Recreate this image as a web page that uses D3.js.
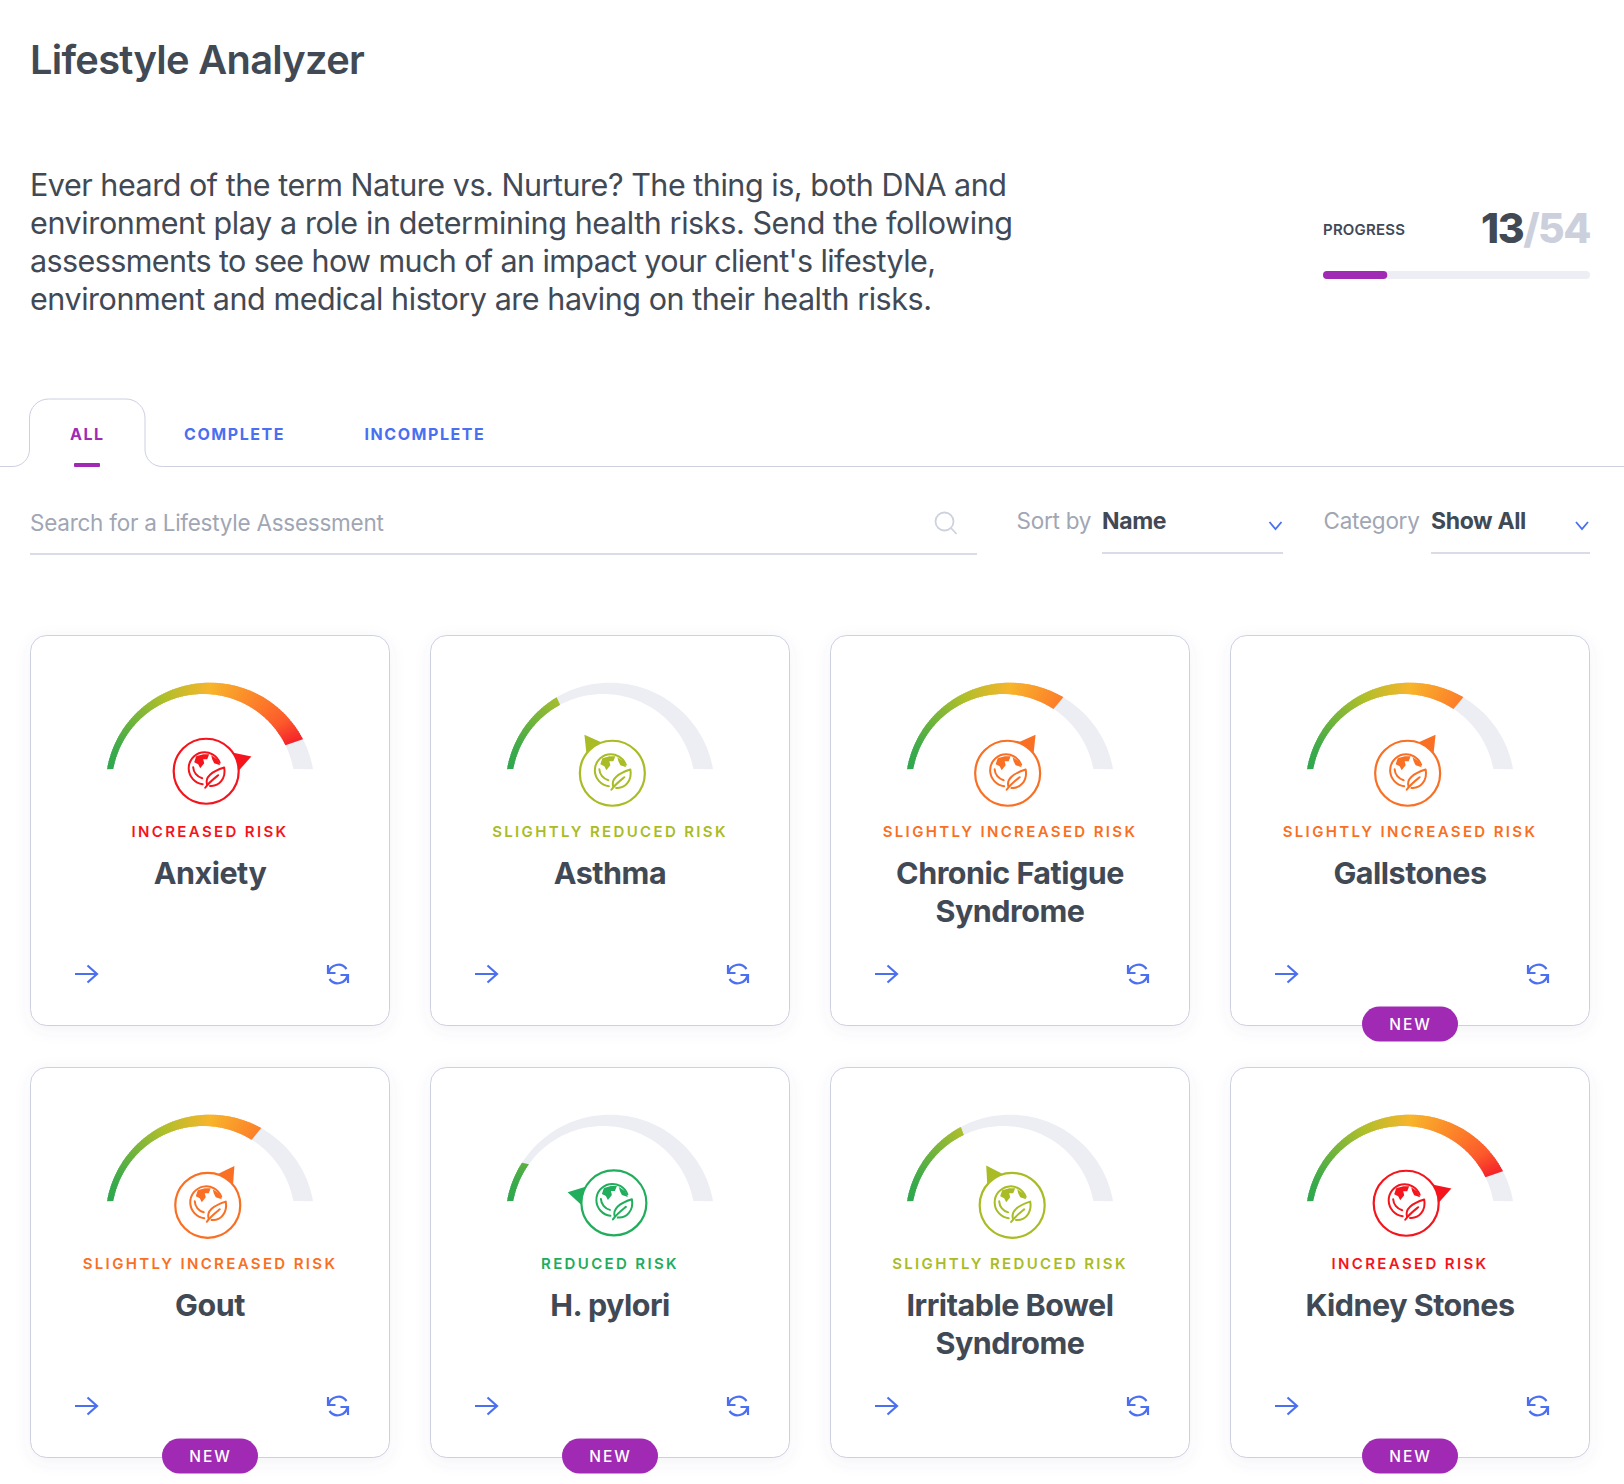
<!DOCTYPE html>
<html>
<head>
<meta charset="utf-8">
<title>Lifestyle Analyzer</title>
<script src="https://cdn.jsdelivr.net/npm/d3@7"></script>
<style>
	html, body { margin: 0; padding: 0; background: #fff; }
	svg { display: block; }
	text { font-family: Inter, "Open Sans", sans-serif; fill: #414955; }
</style>
</head>
<body>
<svg id="page" width="1624" height="1484"></svg>
<script>
// values
var introLines = [
	"Ever heard of the term Nature vs. Nurture? The thing is, both DNA and",
	"environment play a role in determining health risks. Send the following",
	"assessments to see how much of an impact your client's lifestyle,",
	"environment and medical history are having on their health risks."
];
var introWidths = [977, 983, 906, 902];
var progressDone = 13,
	progressTotal = 54;
var tabLabels = ["ALL", "COMPLETE", "INCOMPLETE"];

var cardNames = [
	["Anxiety"], ["Asthma"], ["Chronic Fatigue", "Syndrome"], ["Gallstones"],
	["Gout"], ["H. pylori"], ["Irritable Bowel", "Syndrome"], ["Kidney Stones"]
];
var cardRisks = [
	"INCREASED RISK", "SLIGHTLY REDUCED RISK", "SLIGHTLY INCREASED RISK", "SLIGHTLY INCREASED RISK",
	"SLIGHTLY INCREASED RISK", "REDUCED RISK", "SLIGHTLY REDUCED RISK", "INCREASED RISK"
];
var gaugeValues = [0.89, 0.31, 0.69, 0.69, 0.68, 0.14, 0.325, 0.89];
var cardIsNew = [false, false, false, true, true, true, false, true];

var riskColors = {
	"INCREASED RISK": "#f5141c",
	"SLIGHTLY INCREASED RISK": "#f96f23",
	"SLIGHTLY REDUCED RISK": "#a9bc25",
	"REDUCED RISK": "#20ad5c"
};
var BLUE = "#4a6ff0", PURPLE = "#a02ab3",
	GREY = "#a0a6b4", RULE = "#ccd0df", TRACK = "#eceef3";

var svg = d3.select("#page");

var defs = svg.append("defs");
var shadow = defs.append("filter").attr("id", "cardShadow")
	.attr("x", "-10%").attr("y", "-10%").attr("width", "120%").attr("height", "120%");
shadow.append("feDropShadow").attr("dx", 0).attr("dy", 4).attr("stdDeviation", 8)
	.attr("flood-color", "#5a6488").attr("flood-opacity", 0.07);

function drawHeader() {
	svg.append("text").attr("x", 30).attr("y", 74)
		.attr("font-size", 39.8).attr("font-weight", 600).attr("letter-spacing", -0.7)
		.text("Lifestyle Analyzer");

	svg.append("g").selectAll("text").data(introLines).enter().append("text")
		.attr("x", 30)
		.attr("y", function(d, i) { return 195.5 + i * 38; })
		.attr("font-size", 30.5)
		.attr("textLength", function(d, i) { return introWidths[i]; })
		.attr("lengthAdjust", "spacing")
		.text(function(d) { return d; });

	svg.append("text").attr("x", 1323).attr("y", 235)
		.attr("font-size", 15).attr("font-weight", 600).attr("letter-spacing", 0.2)
		.text("PROGRESS");

	var count = svg.append("text").attr("x", 1590).attr("y", 243)
		.attr("text-anchor", "end").attr("font-size", 41).attr("font-weight", 800)
		.attr("letter-spacing", -1.5);
	count.append("tspan").text(progressDone);
	count.append("tspan").style("fill", "#ccd0dc").text("/" + progressTotal);

	var progress = d3.scaleLinear().domain([0, progressTotal]).range([0, 267]);
	svg.append("rect").attr("x", 1323).attr("y", 271).attr("width", progress(progressTotal)).attr("height", 8)
		.attr("rx", 4).attr("fill", TRACK);
	svg.append("rect").attr("x", 1323).attr("y", 271).attr("width", progress(progressDone)).attr("height", 8)
		.attr("rx", 4).attr("fill", PURPLE);
}

function drawTabs() {
	svg.append("path")
		.attr("d", "M0,466.5 H12 A17,17 0 0 0 29.5,449 V418 A19,19 0 0 1 48.5,399 H126 A19,19 0 0 1 145,418 V449 A17,17 0 0 0 162.5,466.5 H1624")
		.attr("fill", "none").attr("stroke", RULE).attr("stroke-width", 1);

	var tabX = [70, 184, 364.5];
	svg.append("g").selectAll("text").data(tabLabels).enter().append("text")
		.attr("x", function(d, i) { return tabX[i]; })
		.attr("y", 440)
		.attr("font-size", 16).attr("font-weight", 700).attr("letter-spacing", 1.55)
		.style("fill", function(d, i) { return i == 0 ? PURPLE : BLUE; })
		.text(function(d) { return d; });

	svg.append("rect").attr("x", 74).attr("y", 463).attr("width", 26).attr("height", 4)
		.attr("rx", 1).attr("fill", PURPLE);
}

function drawChevron(x, y) {
	svg.append("path").attr("d", "M" + (x - 6) + "," + (y - 3) + " L" + x + "," + (y + 4) + " L" + (x + 6) + "," + (y - 3))
		.attr("fill", "none").attr("stroke", BLUE).attr("stroke-width", 1.8);
}

function drawFilters() {
	svg.append("text").attr("x", 30).attr("y", 531)
		.attr("font-size", 22.5).attr("letter-spacing", -0.25).style("fill", GREY)
		.text("Search for a Lifestyle Assessment");
	svg.append("line").attr("x1", 30).attr("x2", 977).attr("y1", 554).attr("y2", 554)
		.attr("stroke", RULE).attr("stroke-width", 1.5);

	svg.append("circle").attr("cx", 944.5).attr("cy", 521.5).attr("r", 9)
		.attr("fill", "none").attr("stroke", "#ced2dd").attr("stroke-width", 1.8);
	svg.append("line").attr("x1", 951).attr("y1", 528).attr("x2", 956.5).attr("y2", 534)
		.attr("stroke", "#ced2dd").attr("stroke-width", 1.8);

	var labels = [
		{ label: "Sort by", x: 1016.5, value: "Name", vx: 1102, end: 1283, chev: 1275.5 },
		{ label: "Category", x: 1323.5, value: "Show All", vx: 1431, end: 1590, chev: 1582 }
	];
	labels.forEach(function(d) {
		svg.append("text").attr("x", d.x).attr("y", 529)
			.attr("font-size", 22.5).attr("letter-spacing", -0.25).style("fill", GREY).text(d.label);
		svg.append("text").attr("x", d.vx).attr("y", 529)
			.attr("font-size", 23).attr("font-weight", 700).attr("letter-spacing", -0.35).text(d.value);
		svg.append("line").attr("x1", d.vx).attr("x2", d.end).attr("y1", 553).attr("y2", 553)
			.attr("stroke", RULE).attr("stroke-width", 1.5);
		drawChevron(d.chev, 525);
	});
}

// The gauge band widens from left to right: two circles with different
// centres, both cut off flat on the same base line
var OUTER = { cx: 0, cy: 18.3, r: 104.6, angle: d3.scaleLinear().domain([0, 1]).range([-80, 80]) },
	INNER = { cx: -6.7, cy: 16.5, r: 91.5,
		angle: d3.scaleLinear().domain([0, 0.1, 0.31, 0.69, 0.89, 1]).range([-79.6, -61, -27.9, 33, 63.6, 79.6]) };
var gaugeColor = d3.scaleLinear()
	.domain([0, 0.06, 0.33, 0.5, 0.7, 0.8, 0.89, 1])
	.range(["#2fa84f", "#3aaa4c", "#b0bf2b", "#f7b52b", "#fd7a2a", "#fc5a2b", "#f5212a", "#f5141c"]);
var pointerAngle = d3.scaleLinear()
	.domain([0, 0.14, 0.31, 0.69, 0.89, 1])
	.range([-100, -77, -36, 36, 72, 90]);

function gaugePoint(ring, t) {
	var a = ring.angle(t) * Math.PI / 180;
	return [ring.cx + ring.r * Math.sin(a), ring.cy - ring.r * Math.cos(a)];
}

function drawGauge(g, value) {
	var count = 120;
	var band = d3.line();
	var filled = d3.range(0, count).filter(function(i) { return (i + 0.5) / count < value; });

	// grey track first, one piece, then the coloured slices on top
	var ends = d3.range(0, count + 1).map(function(i) { return i / count; });
	g.append("path")
		.attr("d", band(ends.map(function(t) { return gaugePoint(OUTER, t); })
			.concat(ends.slice().reverse().map(function(t) { return gaugePoint(INNER, t); }))) + "Z")
		.attr("fill", TRACK);

	// slices overlap by a step so no seams show between them
	g.selectAll("path.slice").data(filled).enter().append("path")
		.attr("class", "slice")
		.attr("d", function(i) {
			var t0 = i / count, t1 = Math.min(i + 1.6, filled.length) / count;
			return band([gaugePoint(OUTER, t0), gaugePoint(OUTER, t1), gaugePoint(INNER, t1), gaugePoint(INNER, t0)]) + "Z";
		})
		.attr("fill", function(i) { return gaugeColor(i / count); });
}

function drawPointer(g, value, color) {
	var deg = pointerAngle(value),
		rad = deg * Math.PI / 180;
	// the icon moves on a small orbit, away from where the triangle points
	var icon = g.append("g")
		.attr("transform", "translate(" + (-4 * Math.sin(rad)) + "," + (1 + 4 * Math.cos(rad)) + ")");

	icon.append("path")
		.attr("d", "M-9.8,-30.5 L0,-47.5 L9.8,-30.5 Z")
		.attr("transform", "rotate(" + deg + ")")
		.attr("fill", color);
	icon.append("circle").attr("r", 32.5).attr("fill", "#fff").attr("stroke", color).attr("stroke-width", 2.2);

	// globe and leaf
	var strokes = [
		"M13.5,-8.5 A16,16 0 1 0 -3.5,12.9",
		"M-13,-4 A12,12 0 0 0 -4,7"
	];
	strokes.forEach(function(d) {
		icon.append("path").attr("d", d)
			.attr("fill", "none").attr("stroke", color).attr("stroke-width", 2).attr("stroke-linecap", "round");
	});
	icon.append("path").attr("d", "M-10,-15 L-3,-17 L3,-17 L1,-12 L-3,-12 L-2,-8 L-6,-3 L-8,-7 L-12,-9 Z").attr("fill", color);
	icon.append("path").attr("d", "M5,-16 L11,-12 L14,-6 L8,-8 L6,-12 Z").attr("fill", color);
	icon.append("path").attr("d", "M1,14 C-2,6 6,0 18,-3.7 C20,7 13,16 3,14.5")
		.attr("fill", "#fff").attr("stroke", color).attr("stroke-width", 2).attr("stroke-linejoin", "round");
	icon.append("path").attr("d", "M-1,16.5 C3,11 7,8 12,4")
		.attr("fill", "none").attr("stroke", color).attr("stroke-width", 2).attr("stroke-linecap", "round");
}

function drawRefresh(g, x, y) {
	var icon = g.append("g").attr("transform", "translate(" + x + "," + y + ")")
		.attr("fill", "none").attr("stroke", BLUE).attr("stroke-width", 2.2);
	icon.append("path").attr("d", "M-9.5,-1 A10,10 0 0 1 8.5,-5");
	icon.append("path").attr("d", "M-10,-9 V-1 H-2.5");
	icon.append("path").attr("d", "M9.5,1 A10,10 0 0 1 -8.5,5");
	icon.append("path").attr("d", "M10,9 V1 H2.5");
}

function drawCard(i) {
	var col = i % 4, row = Math.floor(i / 4);
	var x = 30.5 + col * 400, y = 635.5 + row * 432;
	var risk = cardRisks[i], color = riskColors[risk];

	var g = svg.append("g").attr("transform", "translate(" + x + "," + y + ")");
	g.append("rect").attr("width", 359).attr("height", 390).attr("rx", 16)
		.attr("fill", "#fff").attr("stroke", RULE).attr("filter", "url(#cardShadow)");

	var gauge = g.append("g").attr("transform", "translate(179.5,133.5)");
	drawGauge(gauge, gaugeValues[i]);
	drawPointer(gauge, gaugeValues[i], color);

	g.append("text").attr("x", 179.5).attr("y", 201)
		.attr("text-anchor", "middle").attr("font-size", 15).attr("font-weight", 600)
		.attr("letter-spacing", 2.35).style("fill", color)
		.text(risk);

	g.selectAll("text.name").data(cardNames[i]).enter().append("text")
		.attr("class", "name")
		.attr("x", 179.5)
		.attr("y", function(d, k) { return 248.5 + k * 38; })
		.attr("text-anchor", "middle").attr("font-size", 30.5).attr("font-weight", 700).attr("letter-spacing", -0.5)
		.text(function(d) { return d; });

	g.append("path").attr("d", "M44.5,338.5 H66 M57,330 L66.5,338.5 L57,347")
		.attr("fill", "none").attr("stroke", BLUE).attr("stroke-width", 2.2);
	drawRefresh(g, 307.5, 338.5);

	if (cardIsNew[i]) {
		g.append("rect").attr("x", 131.5).attr("y", 371).attr("width", 96).attr("height", 35)
			.attr("rx", 17.5).attr("fill", PURPLE);
		g.append("text").attr("x", 180).attr("y", 394.5)
			.attr("text-anchor", "middle").attr("font-size", 15.5).attr("font-weight", 500)
			.attr("letter-spacing", 1.9).style("fill", "#fff")
			.text("NEW");
	}
}

drawHeader();
drawTabs();
drawFilters();
cardNames.forEach(function(d, i) { drawCard(i); });
</script>
</body>
</html>
